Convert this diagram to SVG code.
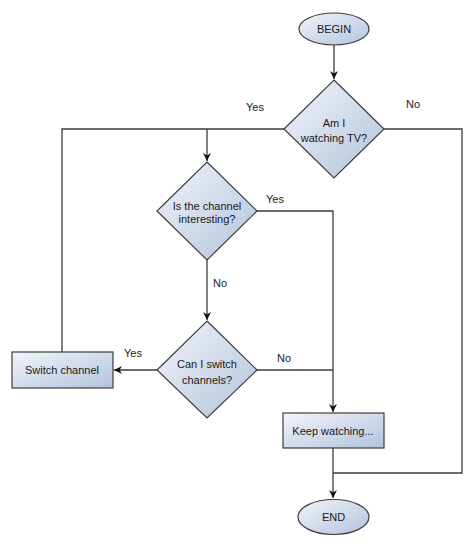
<svg xmlns="http://www.w3.org/2000/svg" width="474" height="547" viewBox="0 0 474 547">
<style>
.shape{fill:url(#g);stroke:#3c3c3c;stroke-width:1.2}
.conn{fill:none;stroke:#3c3c3c;stroke-width:1.3}
text{font-family:"Liberation Sans",Arial,sans-serif;font-size:11px;fill:#1a1a1a}
.c{text-anchor:middle}
</style>
<defs>
<linearGradient id="g" x1="0" y1="0" x2="1" y2="1">
<stop offset="0" stop-color="#f2f5fa"/>
<stop offset="1" stop-color="#b2c2dc"/>
</linearGradient>
<marker id="ah" viewBox="0 0 10 10" refX="10" refY="5" markerWidth="8" markerHeight="8" markerUnits="userSpaceOnUse" orient="auto">
<path d="M0,0 L10,5 L0,10 L3,5 z" fill="#111"/>
</marker>
</defs>
<rect width="474" height="547" fill="#fff"/>
<g id="connectors">
<path class="conn" d="M334,45 V79" marker-end="url(#ah)"/>
<path class="conn" d="M284,129 H62 V352"/>
<path class="conn" d="M207,129 V161" marker-end="url(#ah)"/>
<path class="conn" d="M384,129 H462 V473 H333"/>
<path class="conn" d="M257,211 H333 V412" marker-end="url(#ah)"/>
<path class="conn" d="M207,260 V320" marker-end="url(#ah)"/>
<path class="conn" d="M157,370 H114" marker-end="url(#ah)"/>
<path class="conn" d="M257,370 H333"/>
<path class="conn" d="M333,448 V498" marker-end="url(#ah)"/>
<text x="246" y="111">Yes</text>
<text x="406" y="108">No</text>
<text x="266" y="203">Yes</text>
<text x="213" y="287">No</text>
<text x="124" y="357">Yes</text>
<text x="277" y="362">No</text>
</g>
<g id="begin">
<ellipse class="shape" cx="334" cy="29" rx="35" ry="16"/>
<text class="c" x="334" y="33">BEGIN</text>
</g>
<g id="watching-tv">
<polygon class="shape" points="334,80 384,129 334,178 284,129"/>
<text class="c" x="334" y="127">Am I</text>
<text class="c" x="334" y="142">watching TV?</text>
</g>
<g id="interesting">
<polygon class="shape" points="207,162 257,211 207,260 157,211"/>
<text class="c" x="207" y="210">Is the channel</text>
<text class="c" x="207" y="223">interesting?</text>
</g>
<g id="can-switch">
<polygon class="shape" points="207,321 257,370 207,418 157,370"/>
<text class="c" x="207" y="368">Can I switch</text>
<text class="c" x="207" y="384">channels?</text>
</g>
<g id="switch-channel">
<rect class="shape" x="12" y="352" width="101" height="36"/>
<text class="c" x="62" y="374">Switch channel</text>
</g>
<g id="keep-watching">
<rect class="shape" x="283" y="413" width="101" height="35"/>
<text class="c" x="333" y="435">Keep watching...</text>
</g>
<g id="end">
<ellipse class="shape" cx="333.5" cy="517" rx="35.5" ry="17.5"/>
<text class="c" x="333.5" y="521">END</text>
</g>
</svg>
